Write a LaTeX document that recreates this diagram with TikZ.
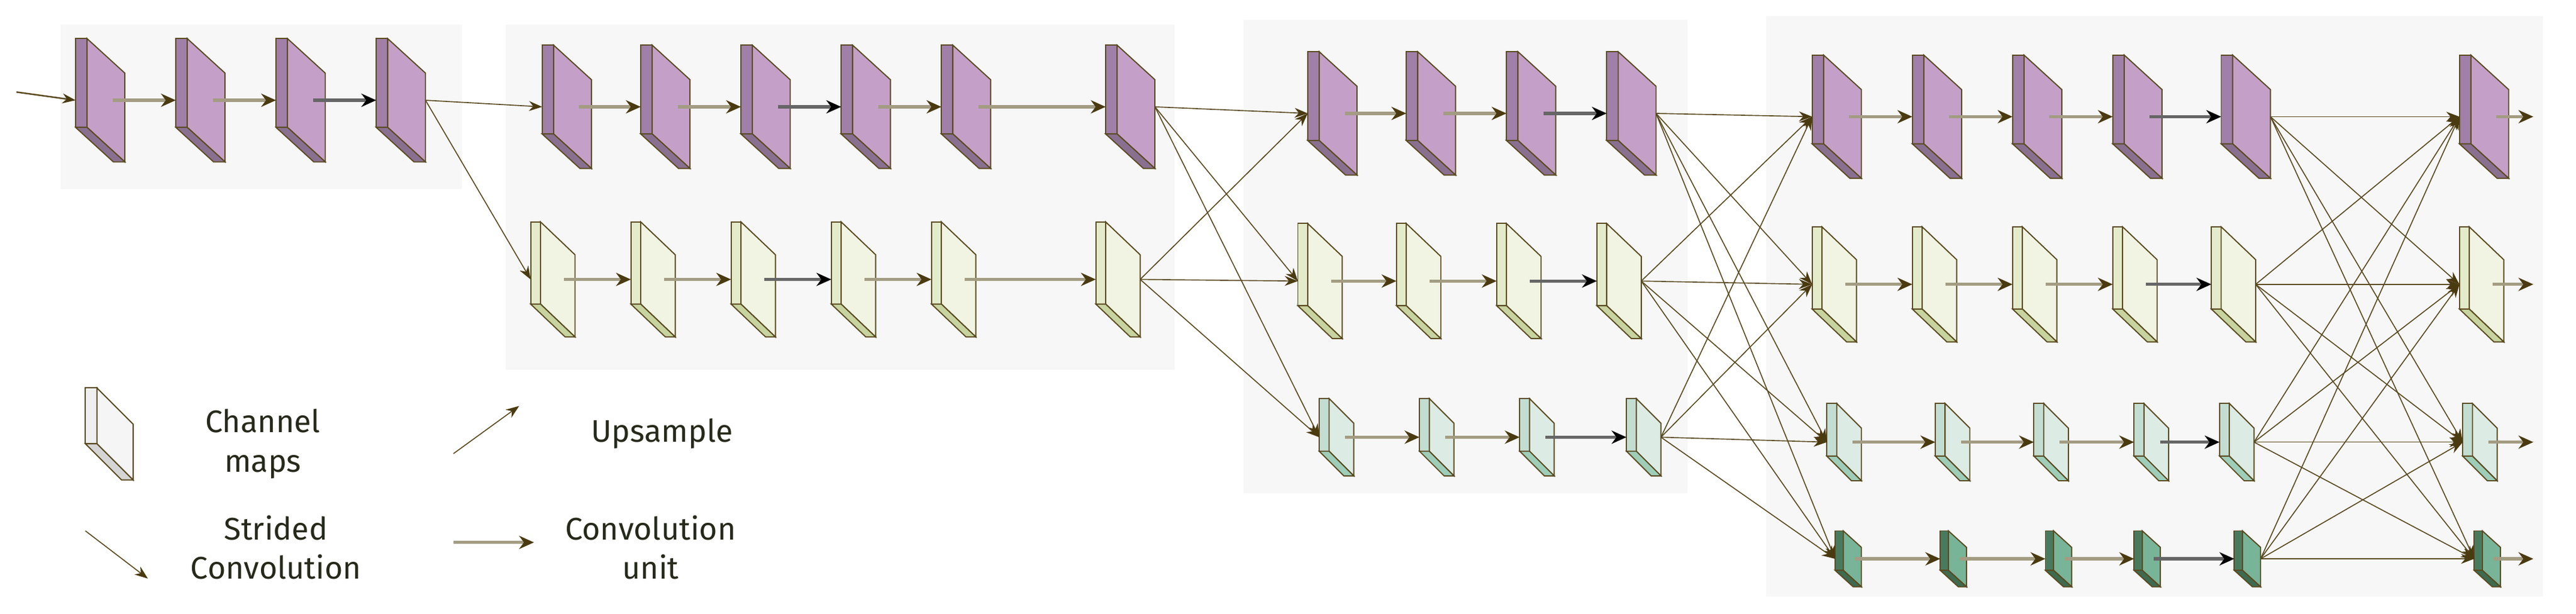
\documentclass[tikz,border=0pt]{standalone}
\usepackage{fontspec}
\setmainfont{Fira Sans}
\usetikzlibrary{arrows.meta}
\definecolor{olv}{HTML}{5A4A20}
\definecolor{tipc}{HTML}{4A3A10}
\definecolor{convc}{HTML}{A39C82}
\definecolor{panel}{HTML}{F7F7F7}
\definecolor{txt}{HTML}{262A1A}
\definecolor{AF}{HTML}{C4A0C8}\definecolor{AS}{HTML}{A07FA8}\definecolor{AB}{HTML}{8A7090}
\definecolor{BF}{HTML}{F1F4E2}\definecolor{BS}{HTML}{E4EBCB}\definecolor{BB}{HTML}{C8D4A0}
\definecolor{CF}{HTML}{DCEBE4}\definecolor{CS}{HTML}{C4DDD2}\definecolor{CB}{HTML}{9ECDB8}
\definecolor{DF}{HTML}{78B498}\definecolor{DS}{HTML}{4A7A5E}\definecolor{DB}{HTML}{3E6A50}
\definecolor{LF}{HTML}{F5F5F5}\definecolor{LS}{HTML}{EFEFEF}\definecolor{LB}{HTML}{D5D5D5}
\tikzset{
 blk/.style={draw=olv,line width=0.7pt,line join=miter},
 conv/.style={draw=convc,line width=2pt,-{Stealth[length=9pt,width=8pt,color=tipc]}},
 convd/.style={draw=black!60,line width=2pt,-{Stealth[length=9pt,width=8pt,color=black]}},
 thin/.style={draw=olv,line width=0.6pt,-{Stealth[length=8pt,width=6pt,color=tipc]}},
 bg/.style={fill=panel,draw=none},
 lbl/.style={text=txt,font=\fontsize{19}{24}\selectfont,align=center}
}
\newcommand\blk[8]{%
 \pgfmathsetmacro\bt{#3-#5/2}\pgfmathsetmacro\bb{#3+#5/2}%
 \pgfmathsetmacro\bs{#2+#6}\pgfmathsetmacro\br{#2+#4}%
 \pgfmathsetmacro\bm{\bb-#7}\pgfmathsetmacro\bd{\bt+#7}\pgfmathsetmacro\bq{\br-#6}%
 \draw[blk,fill=#8S] (#2,\bt) rectangle (\bs,\bm);
 \draw[blk,fill=#8F] (\bs,\bt) -- (\br,\bd) -- (\br,\bb) -- (\bs,\bm) -- cycle;
 \draw[blk,fill=#8B] (#2,\bm) -- (\bs,\bm) -- (\br,\bb) -- (\bq,\bb) -- cycle;
 \coordinate (#1-in) at (#2,#3);
 \coordinate (#1-out) at (\br,#3);
 \coordinate (#1-c) at ({#2+0.75*#4},#3);
}
\newcommand\blkA[3]{\blk{#1}{#2}{#3}{30}{75}{7}{21}{A}}
\newcommand\blkB[3]{\blk{#1}{#2}{#3}{27}{70}{6}{20}{B}}
\newcommand\blkC[3]{\blk{#1}{#2}{#3}{21}{47}{6}{15}{C}}
\newcommand\blkD[3]{\blk{#1}{#2}{#3}{16}{34}{5}{10}{D}}
\begin{document}
\begin{tikzpicture}[x=1pt,y=-1pt]
\useasboundingbox[fill=white] (0,0) rectangle (1568,373.5);
% panels
\fill[bg] (37,15) rectangle (281,115);
\fill[bg] (308,15) rectangle (715,225);
\fill[bg] (757,12) rectangle (1027,300);
\fill[bg] (1075,10) rectangle (1548,363);
% blocks
\foreach \x [count=\i] in {46,107,168,229} {\blkA{r1s1-\i}{\x}{61}}
\foreach \x [count=\i] in {330,390,451,512,573,673} {\blkA{r1s2-\i}{\x}{65}}
\foreach \x [count=\i] in {796,856,917,978} {\blkA{r1s3-\i}{\x}{69}}
\foreach \x [count=\i] in {1103,1164,1225,1286,1352,1497} {\blkA{r1s4-\i}{\x}{71}}
\foreach \x [count=\i] in {323,384,445,506,567,667} {\blkB{r2s2-\i}{\x}{170}}
\foreach \x [count=\i] in {790,850,911,972} {\blkB{r2s3-\i}{\x}{171}}
\foreach \x [count=\i] in {1103,1164,1225,1286,1346,1497} {\blkB{r2s4-\i}{\x}{173}}
\foreach \x [count=\i] in {803,864,925,990} {\blkC{r3s3-\i}{\x}{266}}
\foreach \x [count=\i] in {1112,1178,1238,1299,1351,1499} {\blkC{r3s4-\i}{\x}{269}}
\foreach \x [count=\i] in {1117,1181,1245,1299,1360,1506} {\blkD{r4s4-\i}{\x}{340}}
% legend block
\blk{leg}{52}{264}{29}{56}{7}{22}{L}
% convolution unit arrows
\coordinate (start) at (10,56);
\draw[thin,line width=0.9pt] (start) -- (r1s1-1-in);
\draw[conv] (r1s1-1-c) -- (r1s1-2-in);
\draw[conv] (r1s1-2-c) -- (r1s1-3-in);
\draw[convd] (r1s1-3-c) -- (r1s1-4-in);
\foreach \r in {r1s2,r2s2}{
 \draw[conv] (\r-1-c) -- (\r-2-in);
 \draw[conv] (\r-2-c) -- (\r-3-in);
 \draw[convd] (\r-3-c) -- (\r-4-in);
 \draw[conv] (\r-4-c) -- (\r-5-in);
 \draw[conv] (\r-5-c) -- (\r-6-in);}
\foreach \r in {r1s3,r2s3,r3s3}{
 \draw[conv] (\r-1-c) -- (\r-2-in);
 \draw[conv] (\r-2-c) -- (\r-3-in);
 \draw[convd] (\r-3-c) -- (\r-4-in);}
\foreach \r in {r1s4,r2s4,r3s4,r4s4}{
 \draw[conv] (\r-1-c) -- (\r-2-in);
 \draw[conv] (\r-2-c) -- (\r-3-in);
 \draw[conv] (\r-3-c) -- (\r-4-in);
 \draw[convd] (\r-4-c) -- (\r-5-in);
 \coordinate (\r-end) at (1542,0|-\r-6-c);
 \draw[conv] (\r-6-c) -- (\r-end);}
% transitions
\foreach \t in {r1s2,r2s2} \draw[thin] (r1s1-4-out) -- (\t-1-in);
\foreach \s in {r1s2,r2s2} \foreach \t in {r1s3,r2s3,r3s3} \draw[thin] (\s-6-out) -- (\t-1-in);
\foreach \s in {r1s3,r2s3,r3s3} \foreach \t in {r1s4,r2s4,r3s4,r4s4} \draw[thin] (\s-4-out) -- (\t-1-in);
\foreach \s in {r1s4,r2s4,r3s4,r4s4} \foreach \t in {r1s4,r2s4,r3s4,r4s4} \draw[thin] (\s-5-out) -- (\t-6-in);
% legend
\node[lbl] (l1) at (160,270) {Channel\\maps};
\coordinate (u0) at (276,276); \coordinate (u1) at (316,247);
\draw[thin] (u0) -- (u1);
\node[lbl] (l2) at (403,264) {Upsample};
\coordinate (s0) at (52,323); \coordinate (s1) at (90,352);
\draw[thin] (s0) -- (s1);
\node[lbl] (l3) at (168,333) {Strided\\Convolution};
\coordinate (c0) at (276,330); \coordinate (c1) at (325,330);
\draw[conv] (c0) -- (c1);
\node[lbl] (l4) at (396,333) {Convolution\\unit};
\end{tikzpicture}
\end{document}
